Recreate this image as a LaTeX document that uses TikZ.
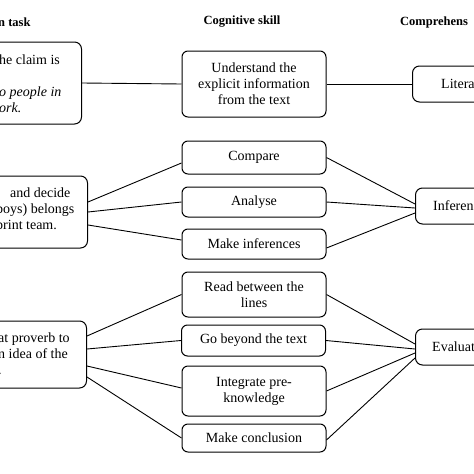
\documentclass[tikz,border=0pt]{standalone}
\usepackage{fontspec}
\setmainfont{Liberation Serif}
\usetikzlibrary{calc}

\tikzset{
  box/.style={draw, rounded corners=6pt, line width=1pt, inner sep=0pt,
    minimum width=144pt, align=center, font=\fontsize{14}{16}\selectfont},
  side/.style={draw, rounded corners=7pt, line width=1pt, inner sep=0pt},
  txt/.style={inner sep=0pt, align=left, font=\fontsize{14}{16}\selectfont},
  head/.style={inner sep=0pt, font=\fontsize{12.5}{15}\selectfont\bfseries},
  link/.style={line width=0.9pt}
}

\begin{document}
\begin{tikzpicture}[x=1pt,y=-1pt]
                \useasboundingbox (0,0) rectangle (474,474);
                \clip (0,0) rectangle (474,474);
                % column titles
                \node[head, anchor=west] (htask) at (-2,22) {n task};
                \node[head] (hskill) at (242,22) {Cognitive skill};
                \node[head, anchor=west] (hlevel) at (400,22) {Comprehens};
                % tasks (left)
                \node[side, anchor=east, minimum width=130pt, minimum height=82pt] (task1) at (82,83) {};
                \node[txt, anchor=west] (ttask1) at (-1,84) {he claim is\\ \strut\\ \textit{o people in}\\ \textit{ork.}};
                \node[side, anchor=east, minimum width=130pt, minimum height=72pt] (task2) at (88,212) {};
                \node[txt, anchor=west] (ttask2) at (-4,210) {\hspace{14pt}and decide\\ boys) belongs\\ print team.};
                \node[side, anchor=east, minimum width=130pt, minimum height=67pt] (task3) at (87,354.5) {};
                \node[txt, anchor=west] (ttask3) at (-2,354) {at proverb to\\ n idea of the\\ .};
                % skills (middle)
                \node[box, minimum height=66pt] (understand) at (254,84) {Understand the\\ explicit information\\ from the text};
                \node[box, minimum height=33pt] (compare) at (254,157.5) {Compare};
                \node[box, minimum height=30pt] (analyse) at (254,202) {Analyse};
                \node[box, minimum height=30pt] (makeinf) at (254,244) {Make inferences};
                \node[box, minimum height=45pt] (readlines) at (254,294.5) {Read between the\\ lines};
                \node[box, minimum height=31pt] (beyond) at (253.5,340.5) {Go beyond the text};
                \node[box, minimum height=50pt] (integrate) at (254,391) {Integrate pre-\\ knowledge};
                \node[box, minimum height=28pt] (conclude) at (254,438) {Make conclusion};
                % levels (right)
                \node[side, anchor=west, minimum width=110pt, minimum height=36pt] (literal) at (412,84) {};
                \node[txt, anchor=west] (tliteral) at (441,84) {Litera};
                \node[side, anchor=west, minimum width=110pt, minimum height=36pt] (inferential) at (415,206) {};
                \node[txt, anchor=west] (tinferential) at (433,206) {Inferen};
                \node[side, anchor=west, minimum width=110pt, minimum height=36pt] (evaluative) at (415,347) {};
                \node[txt, anchor=west] (tevaluative) at (432,347) {Evaluat};
                % literal
                \draw[link] (task1.east) -- (understand.west);
                \draw[link] (understand.east) -- (literal.west);
                % inferential
                \draw[link] ($(task2.east)+(0,-10)$) -- ($(compare.west)+(0,5.5)$);
                \draw[link] (task2.east) -- (analyse.west);
                \draw[link] ($(task2.east)+(0,13)$) -- ($(makeinf.west)+(0,-4)$);
                \draw[link] (compare.east) -- ($(inferential.west)+(0,-2)$);
                \draw[link] (analyse.east) -- ($(inferential.west)+(0,2)$);
                \draw[link] ($(makeinf.east)+(0,4)$) -- ($(inferential.west)+(0,7)$);
                % evaluative
                \draw[link] ($(task3.east)+(0,-18.5)$) -- (readlines.west);
                \draw[link] ($(task3.east)+(0,-5.5)$) -- (beyond.west);
                \draw[link] ($(task3.east)+(0,11.5)$) -- ($(integrate.west)+(0,-3)$);
                \draw[link] ($(task3.east)+(0,22.5)$) -- (conclude.west);
                \draw[link] (readlines.east) -- ($(evaluative.west)+(0,-3)$);
                \draw[link] (beyond.east) -- ($(evaluative.west)+(0,2)$);
                \draw[link] (integrate.east) -- ($(evaluative.west)+(0,6)$);
                \draw[link] ($(conclude.east)+(0,2)$) -- ($(evaluative.west)+(0,11)$);
\end{tikzpicture}
\end{document}
